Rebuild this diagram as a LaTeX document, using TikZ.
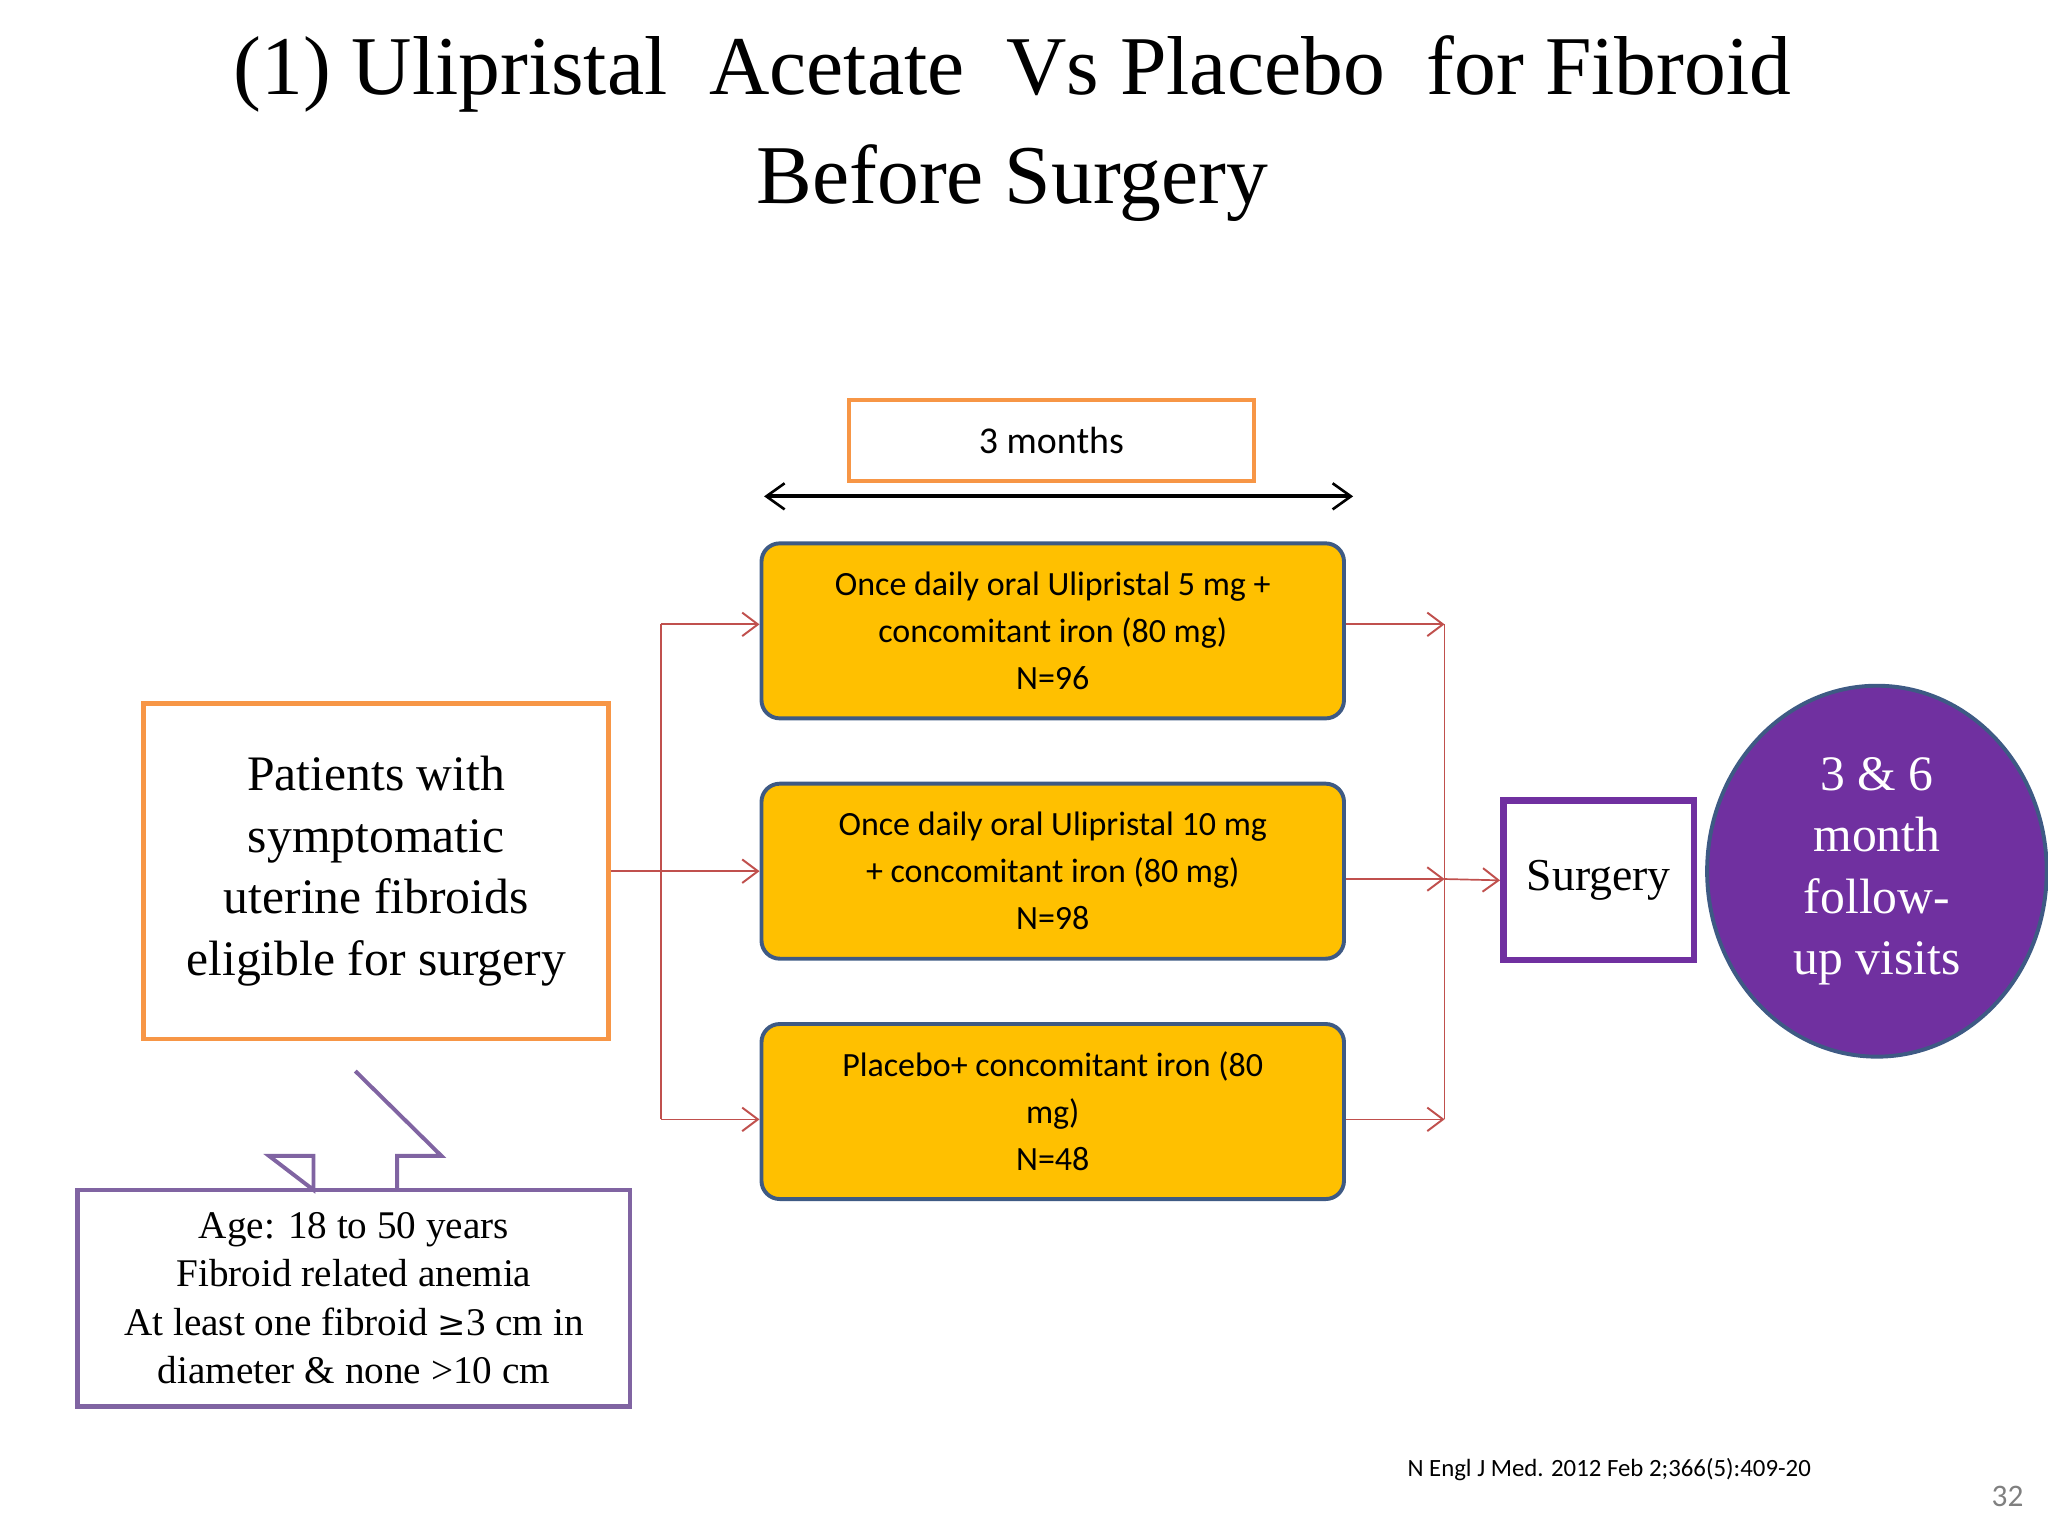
\documentclass[tikz,border=0pt]{standalone}
\usepackage{fontspec}
\setmainfont{Liberation Serif}
\newfontfamily\calfont{Carlito}
\newfontfamily\dvfont{DejaVu Serif}
\usetikzlibrary{arrows.meta,shapes.geometric}
\definecolor{org}{HTML}{F79646}
\definecolor{yel}{HTML}{FFC000}
\definecolor{bord}{HTML}{3E5A84}
\definecolor{pur}{HTML}{7030A0}
\definecolor{lav}{HTML}{8064A2}
\definecolor{rd}{HTML}{C0504D}
\begin{document}
\begin{tikzpicture}[x=1pt,y=-1pt,
 grp/.style={draw=bord,line width=3pt,fill=yel,rounded corners=14pt,minimum width=446pt,minimum height=134pt,align=center,font=\calfont\fontsize{26}{36}\selectfont},
 con/.style={draw=rd,line width=1.3pt},
 arr/.style={con,-{Straight Barb[length=12pt,width=18pt,line width=1.5pt]}}]
\useasboundingbox (0,0) rectangle (1568,1176);
\node (t1) at (775,57) {\fontsize{64}{70}\selectfont (1) Ulipristal\ \ Acetate\ \ Vs Placebo\ \ for Fibroid};
\node (t2) at (775,140) {\fontsize{64}{70}\selectfont Before Surgery};
\node[draw=org,line width=3pt,minimum width=310pt,minimum height=62pt,font=\calfont\fontsize{29}{34}\selectfont] (m) at (805,337) {3 months};
\coordinate (dl) at (585,380); \coordinate (dr) at (1036,380);
\draw[line width=3pt,{Straight Barb[length=14pt,width=20pt,line width=2pt]}-{Straight Barb[length=14pt,width=20pt,line width=2pt]}] (dl) -- (dr);
\node[grp] (b1) at (806,483) {Once daily oral Ulipristal 5 mg +\\concomitant iron (80 mg)\\N=96};
\node[grp] (b2) at (806,667) {Once daily oral Ulipristal 10 mg\\+ concomitant iron (80 mg)\\N=98};
\node[grp] (b3) at (806,851) {Placebo+ concomitant iron (80\\mg)\\N=48};
\node[draw=org,line width=3.5pt,minimum width=356pt,minimum height=257pt,align=center,font=\fontsize{38}{47}\selectfont] (p) at (288,667) {Patients with\\symptomatic\\uterine fibroids\\eligible for surgery};
\draw[draw=lav,line width=3pt] (272,820) -- (338,885) -- (304,885) -- (304,911) (240,911) -- (240,885) -- (206,885) -- cycle;
\node[draw=lav,line width=3.5pt,minimum width=423pt,minimum height=166pt,align=center,font=\fontsize{30}{37}\selectfont] (c) at (271,994) {Age: 18 to 50 years\\Fibroid related anemia\\At least one fibroid {\dvfont\fontsize{26}{30}\selectfont ≥}3 cm in\\diameter \& none >10 cm};
\coordinate (s) at (506,667);
\coordinate (s1) at (506,478); \coordinate (s3) at (506,857);
\draw[con] (p.east) -- (s) (s1) -- (s3);
\draw[arr] (s1) -- (s1 -| b1.west);
\draw[arr] (s) -- (s -| b2.west);
\draw[arr] (s3) -- (s3 -| b3.west);
\coordinate (r1) at (1106,478); \coordinate (r2) at (1106,673); \coordinate (r3) at (1106,857);
\draw[arr] (r1 -| b1.east) -- (r1);
\draw[arr] (r2 -| b2.east) -- (r2);
\draw[arr] (r3 -| b3.east) -- (r3);
\draw[con] (r1) -- (r3);
\node[draw=pur,line width=5pt,minimum width=146pt,minimum height=122pt,font=\fontsize{35}{40}\selectfont] (sg) at (1224,674) {Surgery};
\draw[arr] (r2) -- (sg.west);
\node[ellipse,draw=bord,line width=3pt,fill=pur,minimum width=260pt,minimum height=284pt,text=white,align=center,font=\fontsize{38}{47}\selectfont] (f) at (1437,667) {3 \& 6\\month\\follow-\\up visits};
\node[font=\calfont\fontsize{19}{22}\selectfont] (ref) at (1232,1125) {N Engl J Med. 2012 Feb 2;366(5):409-20};
\node[font=\calfont\fontsize{24}{28}\selectfont,text=gray] (pg) at (1537,1146) {32};
\end{tikzpicture}
\end{document}
